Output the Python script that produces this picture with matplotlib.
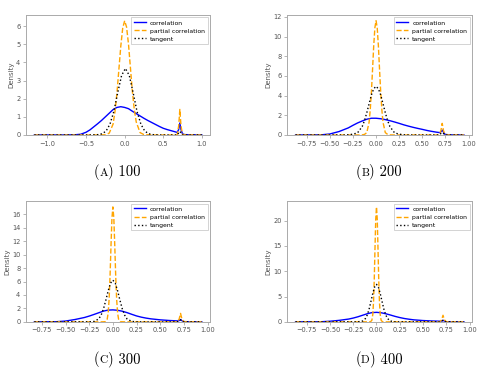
import matplotlib.pyplot as plt
from matplotlib.offsetbox import TextArea, HPacker, AnnotationBbox

# ---- panel (A) 100 ----
a_corr_x = [-1.17, -0.8, -0.65, -0.57, -0.5, -0.45, -0.4, -0.35, -0.3, -0.25, -0.2, -0.15, -0.1, -0.05,
            0.0, 0.05, 0.1, 0.15, 0.2, 0.25, 0.3, 0.35, 0.4, 0.45, 0.5, 0.55, 0.6, 0.65, 0.68,
            0.70, 0.715, 0.73, 0.75, 0.78, 0.85, 1.0]
a_corr_y = [0.0, 0.0, 0.01, 0.04, 0.15, 0.28, 0.45, 0.62, 0.8, 1.0, 1.2, 1.4, 1.52, 1.56,
            1.52, 1.45, 1.31, 1.18, 1.05, 0.92, 0.8, 0.69, 0.58, 0.47, 0.37, 0.3, 0.24, 0.18, 0.14,
            0.3, 0.66, 0.3, 0.06, 0.02, 0.01, 0.0]
a_part_x = [-1.17, -0.4, -0.25, -0.2, -0.15, -0.125, -0.1, -0.075, -0.05, -0.025, 0.0, 0.025, 0.05,
            0.075, 0.1, 0.125, 0.15, 0.2, 0.25, 0.4, 0.68, 0.70, 0.715, 0.73, 0.75, 1.0]
a_part_y = [0.0, 0.0, 0.01, 0.1, 0.6, 1.3, 2.3, 3.6, 4.9, 5.9, 6.3, 5.95, 5.0,
            3.7, 2.4, 1.4, 0.72, 0.13, 0.02, 0.0, 0.0, 0.5, 1.41, 0.5, 0.01, 0.0]
a_tang_x = [-1.17, -0.45, -0.34, -0.29, -0.24, -0.19, -0.14, -0.09, -0.04, 0.01, 0.06, 0.11, 0.16,
            0.21, 0.26, 0.31, 0.36, 0.46, 0.68, 0.715, 0.75, 1.0]
a_tang_y = [0.0, 0.0, 0.02, 0.07, 0.22, 0.6, 1.3, 2.33, 3.28, 3.67, 3.28, 2.33, 1.3,
            0.6, 0.22, 0.07, 0.02, 0.0, 0.0, 0.2, 0.0, 0.0]

# ---- panel (B) 200 ----
b_corr_x = [-0.87, -0.6, -0.5, -0.4, -0.3, -0.25, -0.2, -0.15, -0.1, -0.05, 0.0, 0.05, 0.1, 0.15,
            0.2, 0.25, 0.3, 0.35, 0.4, 0.45, 0.5, 0.55, 0.6, 0.65, 0.69, 0.705, 0.715, 0.725,
            0.745, 0.8, 0.95]
b_corr_y = [0.0, 0.01, 0.1, 0.35, 0.72, 0.98, 1.22, 1.42, 1.6, 1.7, 1.7, 1.65, 1.56, 1.45,
            1.32, 1.18, 1.03, 0.9, 0.78, 0.67, 0.57, 0.46, 0.37, 0.29, 0.24, 0.35, 0.5, 0.35,
            0.06, 0.01, 0.0]
b_part_x = [-0.87, -0.2, -0.15, -0.125, -0.1, -0.075, -0.0625, -0.05, -0.0375, -0.025, -0.0125, 0.0,
            0.0125, 0.025, 0.0375, 0.05, 0.0625, 0.075, 0.1, 0.125, 0.15, 0.2, 0.68, 0.70, 0.715,
            0.73, 0.75, 0.95]
b_part_y = [0.0, 0.0, 0.01, 0.06, 0.24, 1.3, 2.6, 4.4, 6.7, 9.1, 10.9, 11.6,
            10.9, 9.1, 6.7, 4.4, 2.6, 1.3, 0.24, 0.06, 0.01, 0.0, 0.0, 0.4, 1.18,
            0.4, 0.01, 0.0]
b_tang_x = [-0.87, -0.35, -0.3, -0.25, -0.2, -0.15, -0.125, -0.1, -0.075, -0.05, -0.025, 0.0, 0.025,
            0.05, 0.075, 0.1, 0.125, 0.15, 0.2, 0.25, 0.3, 0.35, 0.68, 0.715, 0.75, 0.95]
b_tang_y = [0.0, 0.0, 0.02, 0.08, 0.22, 0.85, 1.46, 2.26, 3.18, 4.07, 4.7, 4.94, 4.7,
            4.07, 3.18, 2.26, 1.46, 0.85, 0.22, 0.08, 0.02, 0.0, 0.0, 0.25, 0.0, 0.0]

# ---- panel (C) 300 ----
c_corr_x = [-0.83, -0.6, -0.5, -0.4, -0.3, -0.25, -0.2, -0.15, -0.1, -0.05, 0.0, 0.05, 0.1, 0.15,
            0.2, 0.25, 0.3, 0.35, 0.4, 0.5, 0.6, 0.69, 0.705, 0.715, 0.725, 0.745, 0.8, 0.94]
c_corr_y = [0.0, 0.02, 0.12, 0.35, 0.65, 0.86, 1.1, 1.35, 1.6, 1.75, 1.78, 1.72, 1.58, 1.37,
            1.12, 0.88, 0.7, 0.56, 0.45, 0.3, 0.2, 0.14, 0.22, 0.35, 0.22, 0.05, 0.01, 0.0]
c_part_x = [-0.83, -0.12, -0.08, -0.06, -0.05, -0.04, -0.03, -0.02, -0.01, 0.0, 0.01, 0.02, 0.03,
            0.04, 0.05, 0.06, 0.08, 0.12, 0.68, 0.70, 0.715, 0.73, 0.75, 0.94]
c_part_y = [0.0, 0.0, 0.02, 0.41, 1.3, 3.3, 6.75, 11.3, 15.4, 17.1, 15.4, 11.3, 6.75,
            3.3, 1.3, 0.41, 0.02, 0.0, 0.0, 0.4, 1.26, 0.4, 0.01, 0.0]
c_tang_x = [-0.83, -0.3, -0.25, -0.2, -0.15, -0.125, -0.1, -0.075, -0.05, -0.025, 0.0, 0.025, 0.05,
            0.075, 0.1, 0.125, 0.15, 0.2, 0.25, 0.3, 0.68, 0.715, 0.75, 0.94]
c_tang_y = [0.0, 0.0, 0.01, 0.06, 0.43, 0.98, 1.9, 3.19, 4.61, 5.76, 6.2, 5.76, 4.61,
            3.19, 1.9, 0.98, 0.43, 0.06, 0.01, 0.0, 0.0, 0.3, 0.0, 0.0]

# ---- panel (D) 400 ----
d_corr_x = [-0.87, -0.6, -0.5, -0.4, -0.3, -0.25, -0.2, -0.15, -0.1, -0.05, 0.0, 0.05, 0.1, 0.15,
            0.2, 0.25, 0.3, 0.35, 0.4, 0.5, 0.6, 0.69, 0.705, 0.715, 0.725, 0.745, 0.8, 0.94]
d_corr_y = [0.0, 0.02, 0.12, 0.3, 0.55, 0.75, 1.0, 1.3, 1.6, 1.82, 1.88, 1.8, 1.6, 1.35,
            1.08, 0.85, 0.66, 0.52, 0.4, 0.26, 0.17, 0.12, 0.2, 0.3, 0.2, 0.04, 0.01, 0.0]
d_part_x = [-0.87, -0.1, -0.065, -0.05, -0.04, -0.032, -0.024, -0.016, -0.008, 0.0, 0.008, 0.016,
            0.024, 0.032, 0.04, 0.05, 0.065, 0.1, 0.68, 0.70, 0.715, 0.73, 0.75, 0.94]
d_part_y = [0.0, 0.0, 0.02, 0.3, 1.43, 3.9, 8.4, 14.6, 20.3, 22.7, 20.3, 14.6,
            8.4, 3.9, 1.43, 0.3, 0.02, 0.0, 0.0, 0.4, 1.3, 0.4, 0.01, 0.0]
d_tang_x = [-0.87, -0.25, -0.2, -0.15, -0.12, -0.1, -0.08, -0.06, -0.04, -0.02, 0.0, 0.02, 0.04,
            0.06, 0.08, 0.1, 0.12, 0.15, 0.2, 0.25, 0.68, 0.715, 0.75, 0.94]
d_tang_y = [0.0, 0.0, 0.01, 0.16, 0.63, 1.33, 2.47, 4.0, 5.6, 6.9, 7.4, 6.9, 5.6,
            4.0, 2.47, 1.33, 0.63, 0.16, 0.01, 0.0, 0.0, 0.3, 0.0, 0.0]

captions = [("A", "100"), ("B", "200"), ("C", "300"), ("D", "400")]
labels = ["correlation", "partial correlation", "tangent"]

panels = [
    (a_corr_x, a_corr_y, a_part_x, a_part_y, a_tang_x, a_tang_y),
    (b_corr_x, b_corr_y, b_part_x, b_part_y, b_tang_x, b_tang_y),
    (c_corr_x, c_corr_y, c_part_x, c_part_y, c_tang_x, c_tang_y),
    (d_corr_x, d_corr_y, d_part_x, d_part_y, d_tang_x, d_tang_y),
]

# axes boxes in figure fraction: left, bottom, width, height
boxes = [
    [0.053, 0.641, 0.376, 0.319],
    [0.586, 0.641, 0.378, 0.319],
    [0.053, 0.144, 0.376, 0.321],
    [0.586, 0.144, 0.378, 0.321],
]
caption_pos = [(0.239, 0.543), (0.773, 0.543), (0.239, 0.045), (0.773, 0.045)]

fig = plt.figure(figsize=(4.9, 3.76), dpi=100)
serif = ['cmr10', 'DejaVu Serif']

for i, (cx, cy, px, py, tx, ty) in enumerate(panels):
    ax = fig.add_axes(boxes[i])
    ax.plot(cx, cy, color='blue', lw=1.0, label=labels[0])
    ax.plot(px, py, color='orange', ls='--', lw=1.0, label=labels[1])
    ax.plot(tx, ty, color='black', ls=':', lw=1.0, label=labels[2])
    ax.set_ylim(bottom=0)
    ax.set_ylabel('Density', fontsize=5, color='#555555', labelpad=1.5)
    ax.tick_params(labelsize=4.8, labelcolor='#555555', color='#999999',
                   length=2, width=0.5, pad=2)
    for s in ax.spines.values():
        s.set_color('#aaaaaa')
        s.set_linewidth(0.7)
    leg = ax.legend(loc='upper right', fontsize=4.4, frameon=True, fancybox=False,
                    handlelength=2.0, handletextpad=0.6, borderpad=0.45,
                    labelspacing=0.45, framealpha=1, borderaxespad=0.4)
    leg.get_frame().set_edgecolor('#cccccc')
    leg.get_frame().set_linewidth(0.6)

    letter, num = captions[i]
    parts = [
        TextArea("(", textprops=dict(size=10.5, family=serif)),
        TextArea(letter, textprops=dict(size=8.2, family=serif)),
        TextArea(") " + num, textprops=dict(size=10.5, family=serif)),
    ]
    box = HPacker(children=parts, align="baseline", pad=0, sep=0)
    ab = AnnotationBbox(box, caption_pos[i], xycoords='figure fraction',
                        frameon=False, box_alignment=(0.5, 0.5))
    fig.add_artist(ab)

fig.savefig('out.png', dpi=100)
